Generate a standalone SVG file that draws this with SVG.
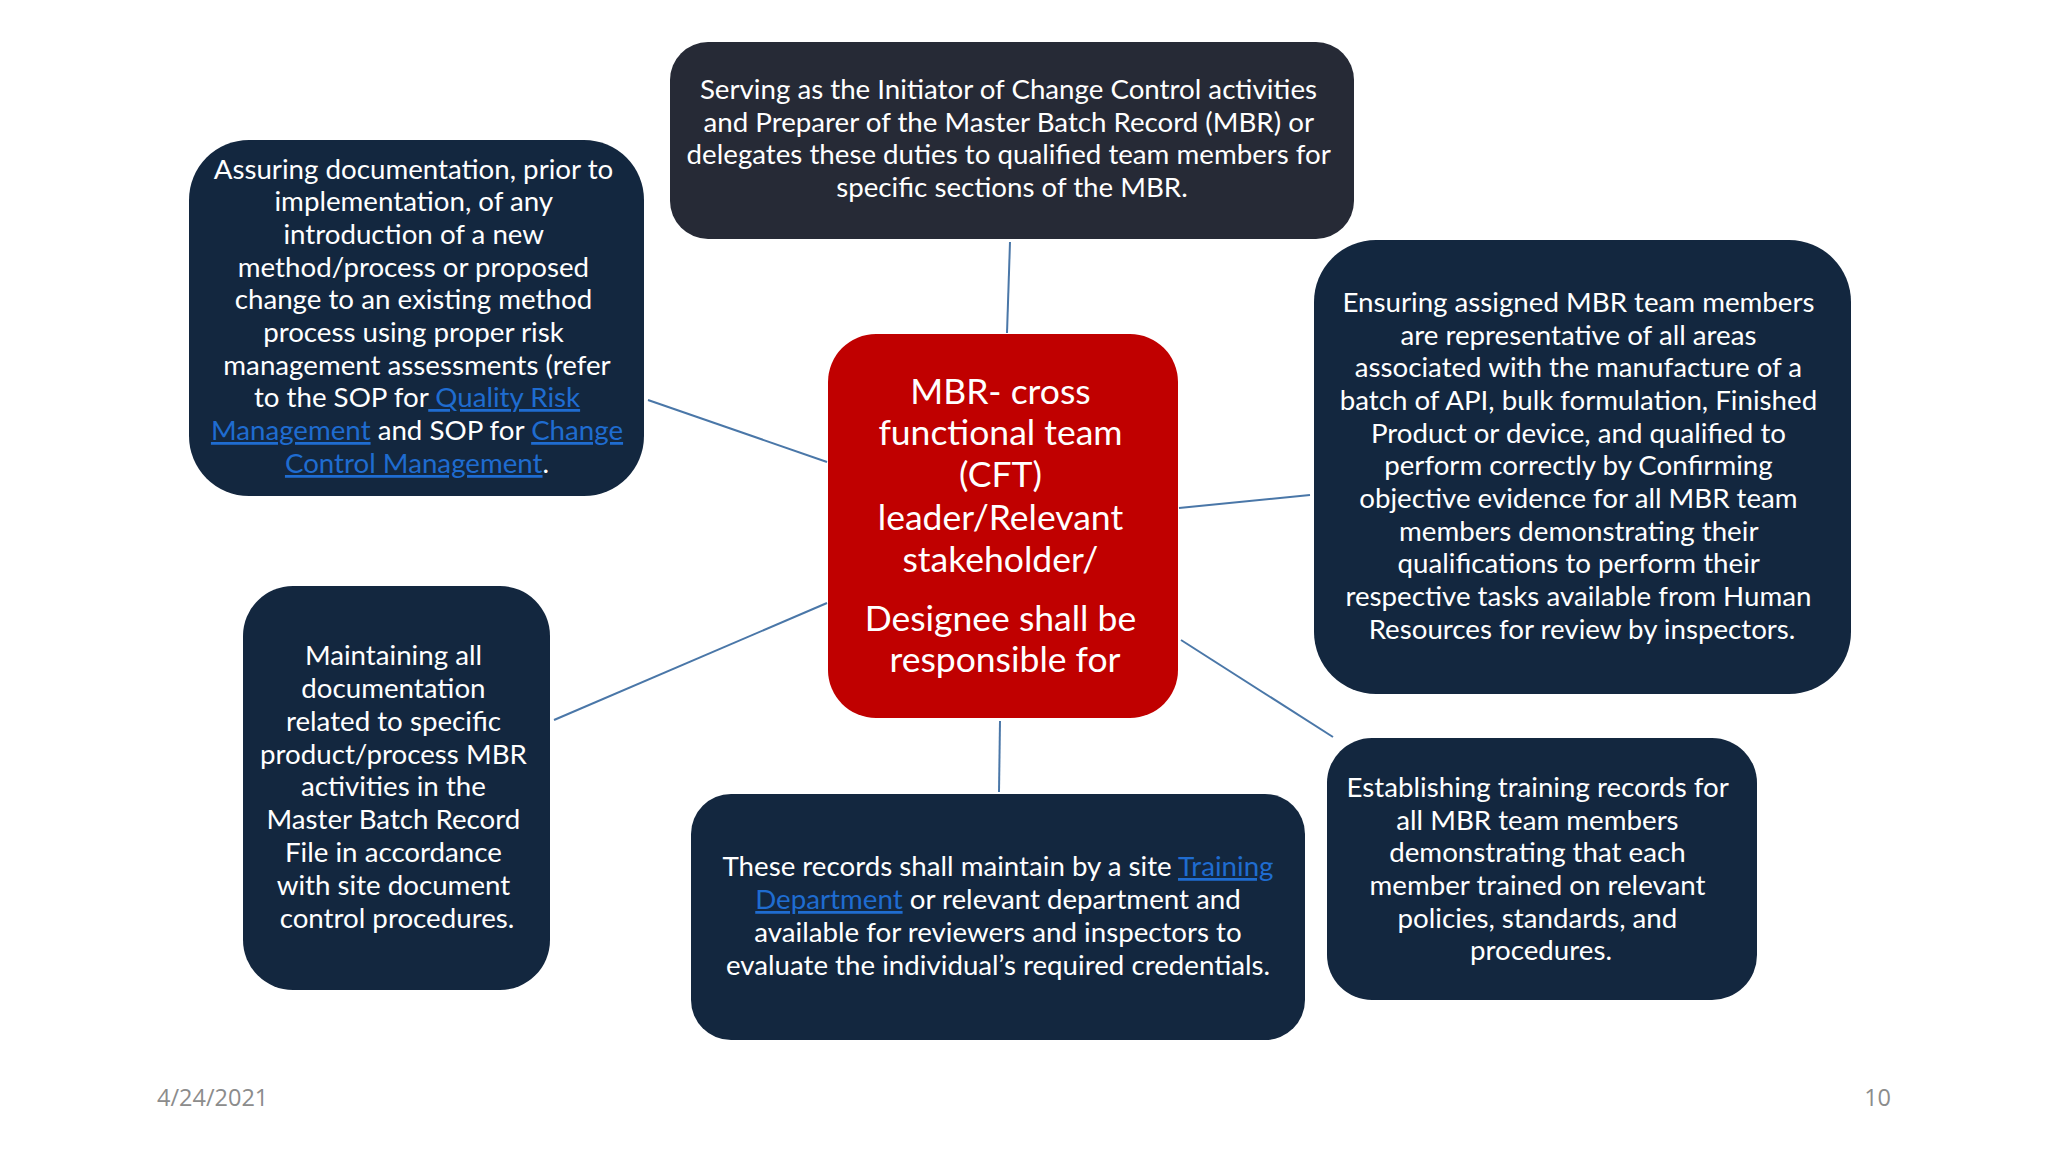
<svg xmlns="http://www.w3.org/2000/svg" width="2048" height="1152" viewBox="0 0 2048 1152">
<style>
.nav{fill:#13273f}
.dark{fill:#262a36}
.red{fill:#c00000}
.t{font-family:Lato,"Open Sans","Liberation Sans",sans-serif;font-size:27.7px;fill:#ffffff;text-anchor:middle}
.c{font-family:Lato,"Open Sans","Liberation Sans",sans-serif;font-size:35.5px;fill:#ffffff;text-anchor:middle}
.lk{fill:#1f6cd0;text-decoration:underline}
.ft{font-family:"Open Sans","Liberation Sans",sans-serif;font-size:23.5px;fill:#8c8c8c}
.ln{stroke:#4a77a8;stroke-width:2;fill:none}
</style>
<rect width="2048" height="1152" fill="#ffffff"/>
<g id="connectors">
<line class="ln" x1="1010" y1="242" x2="1007" y2="333"/>
<line class="ln" x1="648" y1="400" x2="827" y2="462"/>
<line class="ln" x1="1179" y1="508" x2="1310" y2="495"/>
<line class="ln" x1="554" y1="720" x2="827" y2="603"/>
<line class="ln" x1="1000" y1="721" x2="999" y2="792"/>
<line class="ln" x1="1181" y1="640" x2="1333" y2="737"/>
</g>
<g id="center">
<rect class="red" x="828" y="334" width="350" height="384" rx="48"/>
<text class="c">
<tspan x="1005" y="404">MBR- cross</tspan>
<tspan x="1005" y="445">functional team</tspan>
<tspan x="1005" y="487">(CFT)</tspan>
<tspan x="1005" y="530">leader/Relevant</tspan>
<tspan x="1005" y="572">stakeholder/</tspan>
<tspan x="1005" y="631">Designee shall be</tspan>
<tspan x="1005" y="672">responsible for</tspan>
</text>
</g>
<g id="top">
<rect class="dark" x="670" y="42" width="684" height="197" rx="38"/>
<text class="t">
<tspan x="1012" y="99">Serving as the Initiator of Change Control activities</tspan>
<tspan x="1012" y="132">and Preparer of the Master Batch Record (MBR) or</tspan>
<tspan x="1012" y="164">delegates these duties to qualified team members for</tspan>
<tspan x="1012" y="197">specific sections of the MBR.</tspan>
</text>
</g>
<g id="topleft">
<rect class="nav" x="189" y="140" width="455" height="356" rx="60"/>
<text class="t">
<tspan x="417" y="179">Assuring documentation, prior to</tspan>
<tspan x="417" y="211">implementation, of any</tspan>
<tspan x="417" y="244">introduction of a new</tspan>
<tspan x="417" y="277">method/process or proposed</tspan>
<tspan x="417" y="309">change to an existing method</tspan>
<tspan x="417" y="342">process using proper risk</tspan>
<tspan x="417" y="375">management assessments (refer</tspan>
</text>
<text class="t" x="417" y="407">to the SOP for<tspan class="lk"> Quality Risk</tspan></text>
<text class="t" x="417" y="440"><tspan class="lk">Management</tspan> and SOP for <tspan class="lk">Change</tspan></text>
<text class="t" x="417" y="473"><tspan class="lk">Control Management</tspan>.</text>
</g>
<g id="right">
<rect class="nav" x="1314" y="240" width="537" height="454" rx="62"/>
<text class="t">
<tspan x="1582" y="312">Ensuring assigned MBR team members</tspan>
<tspan x="1582" y="345">are representative of all areas</tspan>
<tspan x="1582" y="377">associated with the manufacture of a</tspan>
<tspan x="1582" y="410">batch of API, bulk formulation, Finished</tspan>
<tspan x="1582" y="443">Product or device, and qualified to</tspan>
<tspan x="1582" y="475">perform correctly by Confirming</tspan>
<tspan x="1582" y="508">objective evidence for all MBR team</tspan>
<tspan x="1582" y="541">members demonstrating their</tspan>
<tspan x="1582" y="573">qualifications to perform their</tspan>
<tspan x="1582" y="606">respective tasks available from Human</tspan>
<tspan x="1582" y="639">Resources for review by inspectors.</tspan>
</text>
</g>
<g id="leftbottom">
<rect class="nav" x="243" y="586" width="307" height="404" rx="50"/>
<text class="t">
<tspan x="397" y="665">Maintaining all</tspan>
<tspan x="397" y="698">documentation</tspan>
<tspan x="397" y="731">related to specific</tspan>
<tspan x="397" y="764">product/process MBR</tspan>
<tspan x="397" y="796">activities in the</tspan>
<tspan x="397" y="829">Master Batch Record</tspan>
<tspan x="397" y="862">File in accordance</tspan>
<tspan x="397" y="895">with site document</tspan>
<tspan x="397" y="928">control procedures.</tspan>
</text>
</g>
<g id="bottom">
<rect class="nav" x="691" y="794" width="614" height="246" rx="40"/>
<text class="t" x="998" y="876">These records shall maintain by a site <tspan class="lk">Training</tspan></text>
<text class="t" x="998" y="909"><tspan class="lk">Department</tspan> or relevant department and</text>
<text class="t" x="998" y="942">available for reviewers and inspectors to</text>
<text class="t" x="998" y="975">evaluate the individual’s required credentials.</text>
</g>
<g id="bottomright">
<rect class="nav" x="1327" y="738" width="430" height="262" rx="45"/>
<text class="t">
<tspan x="1541" y="797">Establishing training records for</tspan>
<tspan x="1541" y="830">all MBR team members</tspan>
<tspan x="1541" y="862">demonstrating that each</tspan>
<tspan x="1541" y="895">member trained on relevant</tspan>
<tspan x="1541" y="928">policies, standards, and</tspan>
<tspan x="1541" y="960">procedures.</tspan>
</text>
</g>
<g id="footer">
<text class="ft" x="157" y="1106">4/24/2021</text>
<text class="ft" x="1891" y="1106" text-anchor="end">10</text>
</g>
</svg>
